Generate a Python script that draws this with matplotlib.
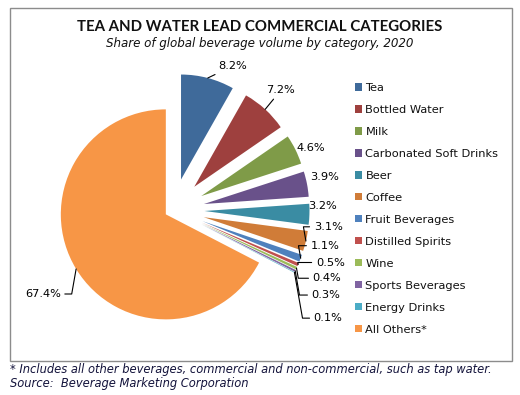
import matplotlib
matplotlib.use("Agg")
import matplotlib.pyplot as plt
import matplotlib.patches as mpatches
import numpy as np

# 数据
categories = ["Tea", "Bottled Water", "Milk", "Carbonated Soft Drinks", "Beer",
              "Coffee", "Fruit Beverages", "Distilled Spirits", "Wine",
              "Sports Beverages", "Energy Drinks", "All Others*"]
shares = [8.2, 7.2, 4.6, 3.9, 3.2, 3.1, 1.1, 0.5, 0.4, 0.3, 0.1, 67.4]
pct_labels = ["8.2%", "7.2%", "4.6%", "3.9%", "3.2%", "3.1%", "1.1%",
              "0.5%", "0.4%", "0.3%", "0.1%", "67.4%"]

colors = ["#3F6A9A", "#9E403E", "#7F9B48", "#69518A", "#3A8CA3", "#D07C38",
          "#4F81BD", "#C0504D", "#9BBB59", "#8064A2", "#4BACC6", "#F79646"]

# 标签位置（饼图坐标，半径=1）
label_pos = [(0.43, 1.37), (0.89, 1.14), (1.18, 0.59), (1.31, 0.31),
             (1.29, 0.04), (1.34, -0.16), (1.31, -0.34), (1.36, -0.50),
             (1.33, -0.65), (1.32, -0.81), (1.34, -1.03), (-1.07, -0.80)]

W, H = 520, 395
fig = plt.figure(figsize=(W / 100, H / 100), dpi=100)
fig.patch.set_facecolor("white")

# 外框
fig.patches.append(mpatches.Rectangle((9.5 / W, 1 - 361 / H), 502 / W, 353 / H,
                                      transform=fig.transFigure, fill=False,
                                      edgecolor="#8C8C8C", linewidth=1.0))

# 饼图坐标轴：中心 (173,210) px，半径 105 px
R = 105
cx, cy = 173, H - 210
ax = fig.add_axes([(cx - 2 * R) / W, (cy - 2 * R) / H, 4 * R / W, 4 * R / H])
explode = [0.30] * (len(shares) - 1) + [0.08]
wedges, _ = ax.pie(shares, colors=colors, startangle=90, counterclock=False,
                   explode=explode, radius=1.0,
                   wedgeprops=dict(linewidth=0))
ax.set_xlim(-2, 2)
ax.set_ylim(-2, 2)
ax.set_aspect("equal")
ax.axis("off")

# 百分比标签和引导线
cum = np.cumsum([0] + shares)
total = cum[-1]
for i, (txt, (tx, ty)) in enumerate(zip(pct_labels, label_pos)):
    mid = 90 - 360 * (cum[i] + shares[i] / 2) / total
    a = np.deg2rad(mid)
    px = (1 + explode[i]) * np.cos(a)
    py = (1 + explode[i]) * np.sin(a)
    ha = "left" if tx > 0 else "right"
    far = np.hypot(tx - px, ty - py) > 0.12
    if far:
        angB = 100 if tx > 0 else 80
        if i < 2:
            arrow = dict(arrowstyle="-", color="black", lw=0.8,
                         shrinkA=1, shrinkB=0)
        else:
            arrow = dict(arrowstyle="-", color="black", lw=0.8,
                         shrinkA=1, shrinkB=0,
                         connectionstyle=f"angle,angleA=0,angleB={angB},rad=0")
        ax.annotate(txt, xy=(px, py), xytext=(tx, ty), ha=ha, va="center",
                    fontsize=8.2, color="black", arrowprops=arrow,
                    annotation_clip=False)
    else:
        ax.text(tx, ty, txt, ha=ha, va="center", fontsize=8.2, color="black")

# 图例
leg = fig.legend(wedges, categories, loc="upper left",
                 bbox_to_anchor=(355 / W, 1 - 83 / H), frameon=False,
                 fontsize=8.2, handlelength=0.62, handleheight=0.62,
                 handletextpad=0.3, labelspacing=1.05, borderpad=0,
                 borderaxespad=0)
for t in leg.get_texts():
    t.set_color("#111111")

# 标题
fig.text(260 / W, 1 - 27 / H, "TEA AND WATER LEAD COMMERCIAL CATEGORIES",
         ha="center", va="center", fontsize=10.8, fontweight="bold",
         family="Lato", color="#111111")
fig.text(260 / W, 1 - 44 / H, "Share of global beverage volume by category, 2020",
         ha="center", va="center", fontsize=8.6, style="italic", color="#111111")

# 脚注
fig.text(10 / W, 1 - 369 / H,
         "* Includes all other beverages, commercial and non-commercial, such as tap water.",
         ha="left", va="center", fontsize=8.3, style="italic", color="#14143C")
fig.text(10 / W, 1 - 384 / H, "Source:  Beverage Marketing Corporation",
         ha="left", va="center", fontsize=8.3, style="italic", color="#14143C")

fig.savefig("out.png", dpi=100)
